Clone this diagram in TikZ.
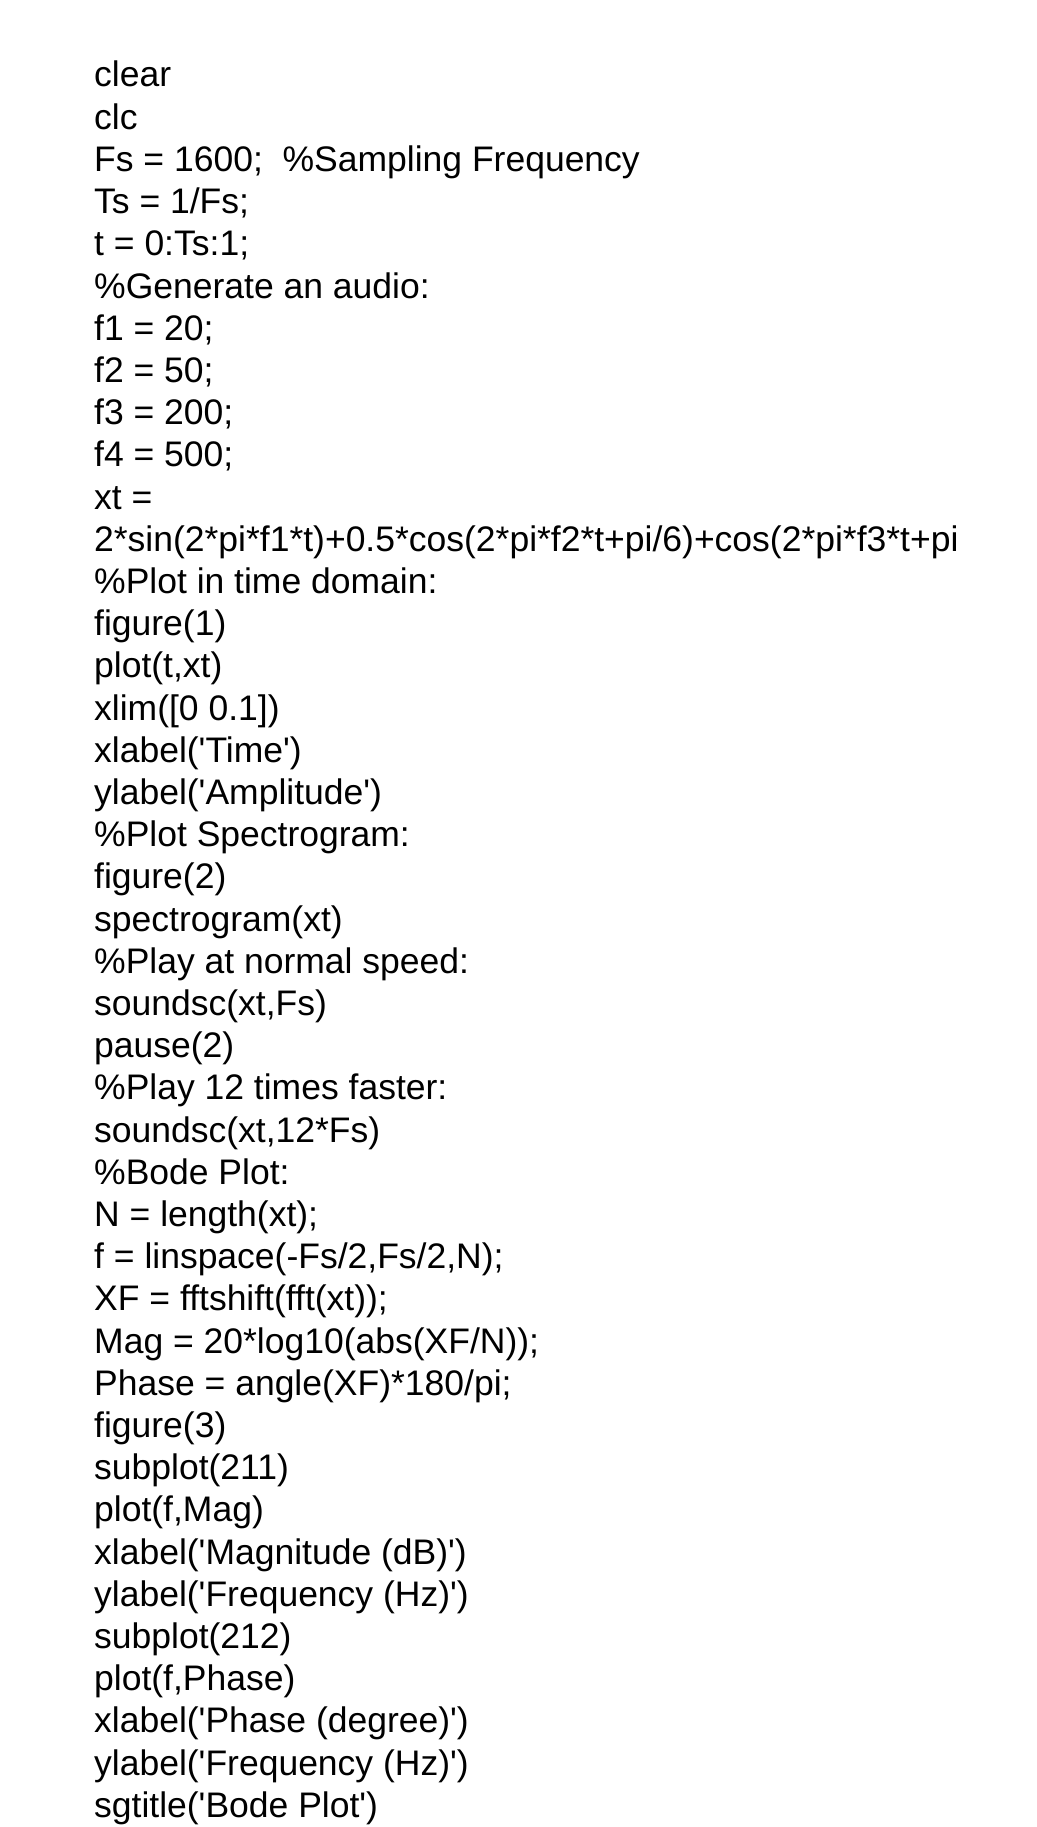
\documentclass[tikz,border=0pt]{standalone}
\usepackage{fontspec}
\setmainfont{Liberation Sans}[Ligatures=TeXOff]
\begin{document}
\begin{tikzpicture}[x=1pt,y=-1pt,line/.style={anchor=west,inner sep=0pt,font=\fontsize{35.5}{40}\selectfont}]
\useasboundingbox[fill=white] (0,0) rectangle (1036,1827);
\clip (0,0) rectangle (957,1827);
\foreach [count=\i from 0] \s in {
clear,clc,{Fs = 1600;\ \ \%Sampling Frequency},Ts = 1/Fs;,t = 0:Ts:1;,\%Generate an audio:,f1 = 20;,f2 = 50;,f3 = 200;,f4 = 500;,xt =,
2*sin(2*pi*f1*t)+0.5*cos(2*pi*f2*t+pi/6)+cos(2*pi*f3*t+pi/4),
\%Plot in time domain:,figure(1),{plot(t,xt)},{xlim([0 0.1])},xlabel('Time'),ylabel('Amplitude'),\%Plot Spectrogram:,figure(2),spectrogram(xt),\%Play at normal speed:,{soundsc(xt,Fs)},pause(2),\%Play 12 times faster:,{soundsc(xt,12*Fs)},\%Bode Plot:,N = length(xt);,{f = linspace(-Fs/2,Fs/2,N);},XF = fftshift(fft(xt));,Mag = 20*log10(abs(XF/N));,Phase = angle(XF)*180/pi;,figure(3),subplot(211),{plot(f,Mag)},xlabel('Magnitude (dB)'),ylabel('Frequency (Hz)'),subplot(212),{plot(f,Phase)},xlabel('Phase (degree)'),ylabel('Frequency (Hz)'),sgtitle('Bode Plot')}
  \node[line] (l\i) at (94,{79+42.2*\i}) {\strut\s};
\end{tikzpicture}
\end{document}
